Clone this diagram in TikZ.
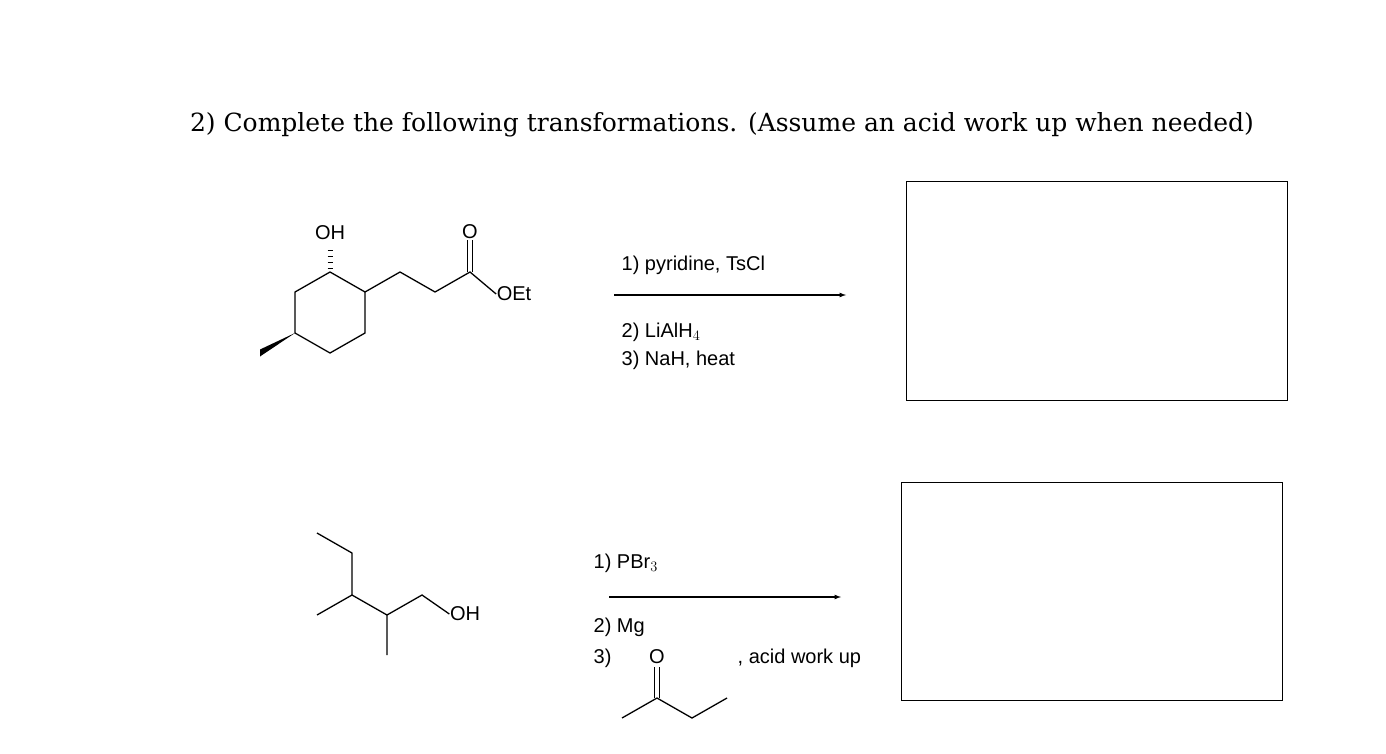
\documentclass[tikz,border=0pt]{standalone}
\usepackage{fontspec}
\setmainfont{Liberation Sans}
\newfontfamily\titlefont{DejaVu Serif}
\usetikzlibrary{calc}
\begin{document}
\begin{tikzpicture}[x=1pt,y=-1pt,line width=1.3pt,
  lab/.style={inner sep=0pt,font=\fontsize{20}{24}\selectfont},
  rtxt/.style={inner sep=0pt,anchor=west,font=\fontsize{20}{24}\selectfont},
  bond/.style={line width=1.3pt},
  rxn/.style={line width=1.2pt,-latex}]
\useasboundingbox (0,0) rectangle (1386,754);
\node[inner sep=0pt,font=\titlefont\fontsize{25}{30}\selectfont] (title) at (722,125) {2) Complete the following transformations. (Assume an acid work up when needed)};
% molecule 1
\coordinate (a1) at (330,272); \coordinate (a2) at (365,292); \coordinate (a3) at (365,333);
\coordinate (a4) at (330,353); \coordinate (a5) at (295,333); \coordinate (a6) at (295,292);
\coordinate (me) at (260,353);
\coordinate (c1) at (400,272); \coordinate (c2) at (435,292); \coordinate (c3) at (470,272);
\node[lab] (oh1) at (330,233) {OH};
\node[lab] (o1) at (470,232) {O};
\node[lab] (oet) at (514,294) {OEt};
\draw[bond] (a1)--(a2)--(a3)--(a4)--(a5)--(a6)--cycle;
\fill (a5) -- ($(me)+(0,-3.5)$) -- ($(me)+(0,3.5)$) -- cycle;
\foreach \t in {0.1,0.3,0.5,0.7} \draw[line width=1.2pt] ($(a1)!\t!(oh1.south)+(-2.5,0)$) -- ($(a1)!\t!(oh1.south)+(2.5,0)$);
\draw[bond] (a2)--(c1)--(c2)--(c3)--(oet.west);
\draw[bond] ($(c3)+(-2.5,0)$)--($(o1.south)+(-2.5,0)$);
\draw[bond] ($(c3)+(2.5,0)$)--($(o1.south)+(2.5,0)$);
% reaction 1
\coordinate (r1s) at (614,295); \coordinate (r1e) at (846,295);
\draw[rxn] (r1s)--(r1e);
\node[rtxt] (t11) at (621,265) {1) pyridine, TsCl};
\node[rtxt] (t12) at (621,332) {2) LiAlH$_4$};
\node[rtxt] (t13) at (621,360) {3) NaH, heat};
\node[draw,line width=1.3pt,minimum width=381,minimum height=219,inner sep=0pt,anchor=north west] (box1) at (906,181) {};
% molecule 2
\coordinate (b1) at (317,533); \coordinate (b2) at (352,553); \coordinate (b3) at (352,595);
\coordinate (b4) at (317,615); \coordinate (b5) at (387,615); \coordinate (b6) at (387,655);
\coordinate (b7) at (422,595);
\node[lab] (oh2) at (465,614) {OH};
\draw[bond] (b1)--(b2)--(b3)--(b4); \draw[bond] (b3)--(b5)--(b6); \draw[bond] (b5)--(b7)--(oh2.west);
% reaction 2
\coordinate (r2s) at (609,597); \coordinate (r2e) at (841,597);
\draw[rxn] (r2s)--(r2e);
\node[rtxt] (t21) at (593,563) {1) PBr$_3$};
\node[rtxt] (t22) at (593,627) {2) Mg};
\node[rtxt] (t23) at (593,658) {3)};
\node[rtxt] (t24) at (737,658) {, acid work up};
\coordinate (k1) at (622,718); \coordinate (k2) at (657,698); \coordinate (k3) at (692,718); \coordinate (k4) at (727,698);
\node[lab] (ko) at (657,657) {O};
\draw[bond] (k1)--(k2)--(k3)--(k4);
\draw[bond] ($(k2)+(-2.5,0)$)--($(ko.south)+(-2.5,2)$);
\draw[bond] ($(k2)+(2.5,0)$)--($(ko.south)+(2.5,2)$);
\node[draw,line width=1.3pt,minimum width=381,minimum height=218,inner sep=0pt,anchor=north west] (box2) at (901,482) {};
\end{tikzpicture}
\end{document}
